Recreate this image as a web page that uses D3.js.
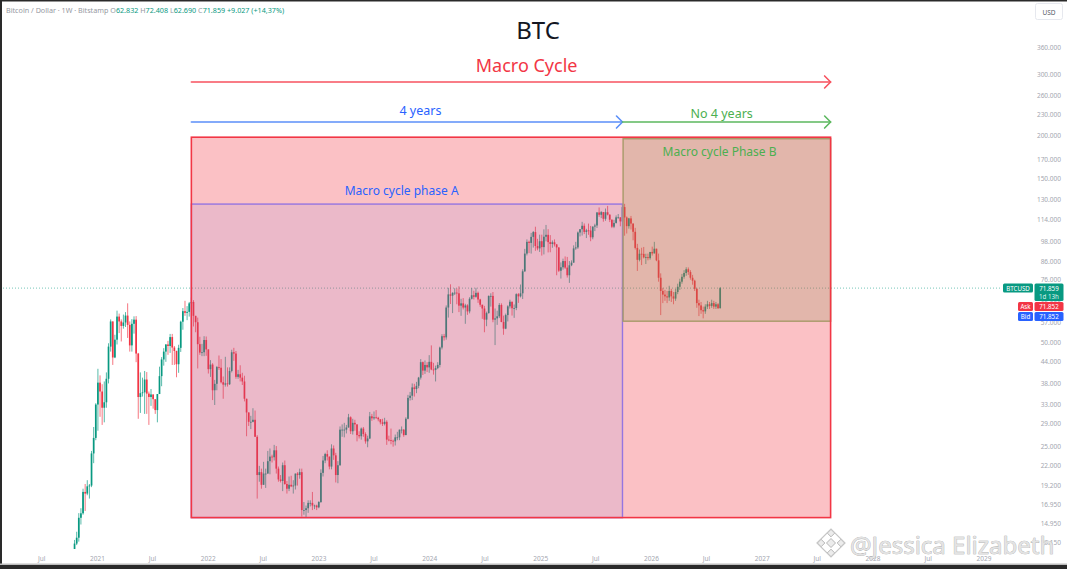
<!DOCTYPE html>
<html><head><meta charset="utf-8">
<script src="https://cdn.jsdelivr.net/npm/d3@7"></script>
<style>
html,body{margin:0;padding:0;background:#fff;overflow:hidden}
svg{display:block;font-family:"Noto Sans",sans-serif}
</style></head><body>
<svg id="c" width="1067" height="569"></svg>
<script>
// ---------- DATA (weekly candles, [close, high, low] in thousands USD) ----------
const firstWeek = "2020-10-19";
const firstOpen = 11.75;
const w2020 = [[13.03,13.35,11.4],[13.55,14.1,12.9],[15.48,15.97,13.2],[15.95,16.5,14.8],[18.4,18.8,15.8],[18.2,19.4,16.2],[19.1,19.9,18.0],[19.2,19.4,17.6],[23.8,24.2,19.0],[26.4,28.4,22.3],[33.0,33.3,26.0]];
const w2021 = [[38.2,41.9,27.7],[36.0,40.1,30.4],[32.3,37.8,28.8],[33.5,38.5,29.3],[39.2,40.9,32.3],[48.6,49.7,38.0],[57.5,58.3,47.0],[45.2,57.5,43.0],[50.9,52.6,45.0],[59.4,61.8,49.3],[57.5,60.6,53.2],[55.8,58.3,50.3],[57.1,60.2,54.8],[59.8,61.2,55.4],[56.2,64.9,51.5],[49.0,57.5,47.0],[56.6,58.4,47.0],[58.2,59.5,53.0],[46.4,59.6,43.8],[34.7,46.6,30.0],[35.6,40.9,31.2],[35.8,39.5,34.8],[39.0,41.3,31.0],[35.5,41.0,31.0],[34.7,36.0,28.8],[35.3,36.6,32.7],[34.2,35.1,32.1],[31.8,34.0,31.0],[35.4,35.4,29.3],[39.9,42.5,36.4],[44.6,45.3,37.3],[47.0,48.1,42.8],[49.3,49.4,43.9],[48.8,50.5,46.0],[51.8,52.9,46.6],[48.3,52.9,43.0],[47.2,48.8,43.0],[43.2,47.3,39.6],[48.2,49.2,40.8],[57.4,57.8,46.9],[61.6,62.9,54.4],[60.9,66.0,59.7],[61.3,63.7,58.0],[64.9,65.5,59.4],[65.5,67.5,62.3],[59.7,66.3,55.6],[57.2,59.2,53.5],[49.4,59.0,42.0],[46.7,51.9,46.0],[46.8,49.5,45.6],[50.8,52.1,45.6],[47.7,52.0,45.7]];
const w2022 = [[41.8,47.5,40.6],[43.1,44.4,39.7],[36.3,43.5,34.0],[37.9,38.9,32.9],[42.4,42.7,36.3],[42.2,45.8,41.6],[38.3,44.7,38.0],[37.7,39.8,34.3],[38.0,45.4,37.2],[37.8,42.3,37.2],[41.3,42.3,37.6],[46.8,47.6,40.9],[46.4,48.2,44.2],[39.7,47.2,39.2],[40.4,41.6,39.2],[39.5,42.9,38.5],[38.5,40.8,37.6],[34.3,40.0,33.7],[31.3,34.2,26.7],[29.4,31.3,28.6],[29.4,30.6,28.0],[29.8,32.2,29.3],[26.6,31.7,26.6],[20.6,26.9,17.6],[21.0,21.9,19.7],[19.3,21.5,18.8],[20.8,22.5,19.3],[20.8,21.5,18.9],[22.6,24.2,20.8],[23.3,24.6,20.7],[23.2,23.6,22.4],[24.3,25.2,22.7],[21.5,25.0,20.8],[20.0,21.8,19.7],[19.8,20.6,19.6],[22.0,22.4,18.5],[19.4,22.7,19.3],[18.8,19.8,18.2],[19.3,20.4,18.5],[19.1,20.5,19.0],[19.2,19.9,18.2],[20.8,20.8,18.7],[20.6,21.0,19.2],[21.0,21.5,20.1],[16.3,21.5,15.6],[16.3,17.2,15.8],[16.5,16.8,15.5],[17.1,17.4,16.0],[17.1,17.4,16.7],[16.8,18.4,16.3],[16.8,16.9,16.4],[16.6,16.9,16.3]];
const w2023 = [[17.2,17.3,16.5],[20.9,21.4,17.1],[22.7,23.4,20.4],[23.7,23.9,22.3],[23.3,24.3,22.7],[21.8,23.3,21.4],[24.6,25.3,21.4],[23.5,25.1,22.8],[20.6,23.9,19.6],[22.0,22.6,19.5],[27.9,28.5,21.9],[27.9,28.9,26.6],[27.9,29.2,26.5],[28.3,28.8,27.2],[30.3,31.0,28.5],[27.6,30.5,27.1],[29.2,30.0,27.0],[28.9,29.8,27.7],[26.9,28.0,25.8],[26.7,27.6,26.3],[28.1,28.3,26.1],[27.1,28.4,26.6],[25.8,27.4,25.4],[26.3,26.8,24.8],[30.5,31.4,26.2],[30.1,31.0,29.6],[30.3,31.5,29.8],[30.2,31.8,30.0],[29.9,30.4,29.5],[29.3,29.6,28.9],[29.0,30.0,28.6],[29.4,30.2,28.7],[26.1,29.7,25.2],[26.0,26.8,25.8],[25.9,28.1,25.3],[25.8,26.1,24.9],[26.5,27.0,25.1],[26.5,27.5,26.0],[27.9,27.9,26.0],[27.9,28.5,27.2],[26.9,28.0,26.6],[30.0,30.3,26.9],[34.5,35.2,29.9],[35.0,35.9,33.9],[37.0,38.0,34.0],[36.6,37.9,34.8],[37.4,38.4,35.6],[39.5,39.7,36.8],[43.8,44.7,39.0],[41.4,44.0,40.2],[43.0,44.3,40.5],[42.3,43.8,41.0]];
const w2024 = [[43.9,45.9,40.8],[41.7,49.0,41.5],[41.6,43.6,40.3],[42.1,42.8,38.5],[43.0,43.8,41.8],[48.3,48.6,42.3],[52.1,52.8,47.7],[51.7,52.9,50.6],[63.1,64.0,50.9],[68.9,72.0,59.0],[68.3,73.7,64.6],[69.6,69.9,60.8],[69.7,71.8,68.6],[69.4,71.7,64.5],[63.9,72.7,61.2],[64.9,66.9,59.7],[63.1,67.2,62.3],[64.0,64.7,56.6],[61.5,64.5,60.1],[66.9,67.6,60.7],[68.5,71.9,66.6],[67.8,70.6,66.6],[69.6,72.0,67.4],[66.6,70.2,65.1],[64.3,66.9,63.4],[62.7,63.4,58.5],[58.2,63.8,53.5],[60.8,61.4,55.7],[68.2,68.4,60.6],[68.2,69.4,63.5],[58.2,70.0,57.2],[58.7,62.7,49.1],[59.5,61.8,56.2],[64.2,65.0,58.8],[57.3,64.9,57.2],[54.8,59.8,52.6],[60.0,60.6,54.6],[63.6,64.1,57.5],[65.6,66.5,62.7],[62.8,65.5,59.8],[62.9,64.4,58.9],[69.0,69.4,62.0],[68.0,69.5,65.1],[69.4,73.6,67.5],[80.4,81.5,66.8],[90.5,93.4,80.0],[97.9,99.5,89.4],[97.2,98.7,90.8],[101.2,103.9,90.5],[104.5,105.2,94.2],[95.2,108.3,92.2],[93.7,99.9,92.5],[98.3,102.7,91.5]];
const w2025 = [[94.5,102.7,89.3],[101.3,106.4,90.0],[102.6,109.6,98.2],[97.7,106.5,91.2],[96.5,102.4,91.3],[97.6,98.8,94.1],[96.2,99.5,94.9],[94.3,96.5,78.3],[80.7,94.4,80.0],[82.6,85.3,76.6],[86.1,87.5,81.3],[82.4,88.8,81.6],[78.3,88.5,77.1],[83.7,86.1,74.4],[85.2,86.5,83.2],[93.7,95.6,85.1],[94.3,97.9,92.8],[104.2,104.9,93.4],[106.5,106.6,101.5],[109.0,111.9,102.1],[104.6,110.7,103.1],[105.7,106.8,100.4],[105.6,110.6,102.6],[100.9,108.9,98.3],[108.4,108.5,99.6],[109.2,110.5,105.2],[119.1,119.5,107.4],[117.3,123.2,115.7],[119.4,120.2,114.7],[114.2,119.3,112.0],[119.3,122.3,112.7],[117.4,124.5,116.8],[113.5,117.6,111.7],[108.3,113.7,107.3],[111.1,113.4,107.3],[115.3,116.8,110.6],[115.3,117.9,114.3],[112.2,115.4,108.6],[123.5,125.7,111.6],[115.2,126.2,102.0],[108.7,116.0,103.5],[114.5,114.9,106.9],[110.6,116.4,106.3],[104.7,110.8,98.9],[94.0,107.5,93.0],[86.8,96.6,80.6],[90.4,93.0,85.9],[90.3,94.1,83.8],[88.2,94.6,87.6],[88.4,90.4,84.4],[87.8,90.5,86.5],[91.5,91.5,86.9]];
const w2026 = [[90.6,94.8,89.3],[93.5,97.9,90.9],[86.5,93.5,86.0],[77.0,90.5,75.0],[70.5,79.3,60.0],[68.8,72.0,65.0],[68.0,71.0,66.0],[67.5,70.5,65.0],[70.5,73.0,66.0],[68.0,71.5,65.5],[67.0,70.0,64.5],[70.0,71.5,66.0],[72.5,74.0,69.0],[75.0,76.5,71.0],[77.5,79.0,74.0],[79.5,81.0,76.5],[81.5,82.6,78.0],[80.0,82.5,78.5],[77.0,81.0,76.0],[75.5,78.5,73.5],[71.5,76.0,70.5],[65.0,72.0,63.0],[64.0,66.5,59.6],[62.0,65.5,60.5],[61.5,63.5,58.7],[63.5,64.5,60.5],[64.5,66.0,62.5],[63.8,65.5,62.5],[65.0,66.5,63.0],[63.5,66.0,62.5],[64.5,65.5,62.5],[62.832,65.0,62.5],[71.859,72.408,62.690]];

const askPrice = 71852, bidPrice = 71852;
const countdown = "1d 13h";
const symbolName = "BTCUSD";
const headerTitle = "Bitcoin / Dollar · 1W · Bitstamp";

const xTickDates = ["2020-07-01","2021-01-01","2021-07-01","2022-01-01","2022-07-01","2023-01-01","2023-07-01","2024-01-01","2024-07-01","2025-01-01","2025-07-01","2026-01-01","2026-07-01","2027-01-01","2027-07-01","2028-01-01","2028-07-01","2029-01-01"];
const yTickValues = [13150,14950,16950,19200,22000,25000,29000,33000,38000,44000,50000,57000,65000,76000,86000,98000,114000,130000,150000,170000,200000,230000,260000,300000,360000];

// zones (rectangles): name, start date, end date, top price, bottom price
const zoneNames  = ["Macro Cycle","Macro cycle phase A","Macro cycle Phase B"];
const zoneStart  = ["2021-11-08","2021-11-08","2025-10-01"];
const zoneEnd    = ["2027-08-16","2025-09-29","2027-08-16"];
const zoneTop    = [197000,126000,195000];
const zoneBottom = [15500,15500,57600];

// arrows: label, start, end, price
const arrowNames = ["Macro Cycle","4 years","No 4 years"];
const arrowStart = ["2021-11-08","2021-11-08","2025-09-29"];
const arrowEnd   = ["2027-08-16","2025-09-29","2027-08-16"];
const arrowPrice = [285000,218000,218000];

// text labels: text, date, price
const labelTexts  = ["Macro Cycle","4 years","No 4 years","Macro cycle phase A","Macro cycle Phase B"];
const labelDates  = ["2024-11-17","2023-12-03","2026-08-22","2023-10-02","2026-08-15"];
const labelPrices = [319000,236000,231500,138000,178500];

// ---------- RENDER ----------
const W = 1067, H = 569;
const svg = d3.select("#c");
const parse = d3.utcParse("%Y-%m-%d");
const loc = d3.formatLocale({decimal:",", thousands:".", grouping:[3], currency:["",""]});
const fmtInt = loc.format(",.0f");
const fmt2 = loc.format(".2f");

const x = d3.scaleUtc().domain([parse("2021-01-01"), parse("2026-01-01")]).range([97, 651]);
const y = d3.scaleLog().domain([14950, 360000]).range([523, 47]);

const rows = [].concat(w2020, w2021, w2022, w2023, w2024, w2025, w2026);
const t0 = parse(firstWeek);
let prev = firstOpen;
const candles = rows.map((r, i) => {
  const d = {date: d3.utcDay.offset(t0, 7*i), o: prev*1000, c: r[0]*1000, h: r[1]*1000, l: r[2]*1000};
  prev = r[0];
  return d;
});
const last = candles[candles.length-1];

svg.append("rect").attr("width", W).attr("height", H).attr("fill", "#fff");

const defs = svg.append("defs");
defs.append("clipPath").attr("id","plot").append("rect").attr("x",3).attr("y",2).attr("width",997).attr("height",547);

const plot = svg.append("g").attr("clip-path","url(#plot)");

// candles
const UP = "#089981", DN = "#f23645";
const cg = plot.append("g");
cg.selectAll("line").data(candles).join("line")
  .attr("x1", d => x(d.date)).attr("x2", d => x(d.date))
  .attr("y1", d => y(Math.max(d.h, d.o, d.c))).attr("y2", d => y(Math.min(d.l, d.o, d.c)))
  .attr("stroke", d => d.c >= d.o ? UP : DN).attr("stroke-width", 0.9).attr("opacity", 0.75);
cg.selectAll("rect").data(candles).join("rect")
  .attr("x", d => x(d.date) - 0.85).attr("width", 1.7)
  .attr("y", d => y(Math.max(d.o, d.c)))
  .attr("height", d => Math.max(0.8, Math.abs(y(d.o) - y(d.c))))
  .attr("fill", d => d.c >= d.o ? UP : DN);

// current price dotted line
plot.append("line").attr("x1", 3).attr("x2", 1003).attr("y1", y(last.c)).attr("y2", y(last.c))
  .attr("stroke", UP).attr("stroke-width", 1).attr("stroke-dasharray", "1,2").attr("opacity", 0.55);

// zones
const zoneFill = ["rgba(242,54,69,0.31)", "rgba(41,98,255,0.075)", "rgba(130,140,70,0.2)"];
const zoneStroke = ["#f23645", "#9575e0", "#a79a68"];
const zones = zoneNames.map((n, i) => ({name: n, x0: x(parse(zoneStart[i])), x1: x(parse(zoneEnd[i])), y0: y(zoneTop[i]), y1: y(zoneBottom[i]), i}));
plot.append("g").selectAll("rect").data(zones).join("rect")
  .attr("x", d => d.x0).attr("y", d => d.y0).attr("width", d => d.x1 - d.x0).attr("height", d => d.y1 - d.y0)
  .attr("fill", d => zoneFill[d.i]);
[1, 2, 0].forEach(i => {
  const z = zones[i];
  plot.append("rect").attr("x", z.x0).attr("y", z.y0).attr("width", z.x1 - z.x0).attr("height", z.y1 - z.y0)
    .attr("fill", "none").attr("stroke", zoneStroke[i]).attr("stroke-width", i === 0 ? 1.6 : 1.4);
});

// arrows
const arrowColor = ["#f7525f", "#5b8ff9", "#5cb85f"];
arrowNames.forEach((n, i) => {
  const xa = x(parse(arrowStart[i])), xb = x(parse(arrowEnd[i])), ya = y(arrowPrice[i]);
  const g = svg.append("g").attr("stroke", arrowColor[i]).attr("fill", "none").attr("stroke-width", 1.6).attr("stroke-linecap","round").attr("stroke-linejoin","round");
  g.append("line").attr("x1", xa).attr("x2", xb).attr("y1", ya).attr("y2", ya);
  g.append("path").attr("d", `M${xb-6},${ya-6} L${xb},${ya} L${xb-6},${ya+6}`);
});

// labels
const labelColor = ["#f23645", "#2962ff", "#4caf50", "#2962ff", "#4caf50"];
const labelSize = [18, 12.5, 12.5, 12, 12];
labelTexts.forEach((t, i) => {
  svg.append("text").attr("x", x(parse(labelDates[i]))).attr("y", y(labelPrices[i]))
    .attr("text-anchor", "middle").attr("dominant-baseline", "central")
    .attr("font-size", labelSize[i]).attr("fill", labelColor[i]).text(t);
});

// title
svg.append("text").attr("x", 538).attr("y", 29).attr("text-anchor","middle").attr("dominant-baseline","central")
  .attr("font-size", 24).attr("fill", "#131722").text("BTC");

// x axis
const xAxis = d3.axisBottom(x).tickValues(xTickDates.map(parse)).tickSize(0)
  .tickFormat(d => d.getUTCMonth() === 0 ? String(d.getUTCFullYear()) : "Jul");
const gx = svg.append("g").attr("transform", "translate(0,553)").call(xAxis);
gx.select(".domain").remove();
gx.selectAll("text").attr("fill", "#a3a6af").attr("font-size", 6.5).attr("font-family", "Noto Sans");

// y axis
const yAxis = d3.axisLeft(y).tickValues(yTickValues).tickSize(0).tickFormat(fmtInt);
const gy = svg.append("g").attr("transform", "translate(1064,0)").call(yAxis);
gy.select(".domain").remove();
gy.selectAll("text").attr("fill", "#a3a6af").attr("font-size", 6.5).attr("font-family", "Noto Sans");

// USD box
svg.append("rect").attr("x", 1035.5).attr("y", 3.5).attr("width", 27).attr("height", 16).attr("rx", 2)
  .attr("fill", "#fff").attr("stroke", "#e6e8ee");
svg.append("text").attr("x", 1049).attr("y", 12).attr("text-anchor","middle").attr("dominant-baseline","central")
  .attr("font-size", 6.5).attr("fill", "#555a66").text("USD");

// price badges
const yc = y(last.c);
function badge(x0, y0, w, h, fill, txt, tcol) {
  svg.append("rect").attr("x", x0).attr("y", y0).attr("width", w).attr("height", h).attr("rx", 1.5).attr("fill", fill);
  svg.append("text").attr("x", x0 + w/2).attr("y", y0 + h/2 + 0.3).attr("text-anchor","middle").attr("dominant-baseline","central")
    .attr("font-size", 6.2).attr("fill", tcol || "#fff").text(txt);
}
badge(1003, yc - 4.5, 30, 9, UP, symbolName);
svg.append("rect").attr("x", 1034.5).attr("y", yc - 4.5).attr("width", 29).attr("height", 17.5).attr("rx", 1.5).attr("fill", UP);
svg.append("text").attr("x", 1049).attr("y", yc).attr("text-anchor","middle").attr("dominant-baseline","central").attr("font-size", 6.2).attr("fill", "#fff").text(fmtInt(last.c));
svg.append("text").attr("x", 1049).attr("y", yc + 8.5).attr("text-anchor","middle").attr("dominant-baseline","central").attr("font-size", 6.2).attr("fill", "#d9f2ec").text(countdown);
badge(1018, yc + 14, 15, 9, DN, "Ask");
badge(1034.5, yc + 14, 29, 9, DN, fmtInt(askPrice));
badge(1018, yc + 24, 15, 9, "#2962ff", "Bid");
badge(1034.5, yc + 24, 29, 9, "#2962ff", fmtInt(bidPrice));

// header legend
const chg = last.c - last.o;
const hdr = svg.append("text").attr("x", 6).attr("y", 13).attr("font-size", 7.2).attr("fill", "#9598a1");
hdr.append("tspan").text(headerTitle + "  ");
[["O", last.o], ["H", last.h], ["L", last.l], ["C", last.c]].forEach(([k, v]) => {
  hdr.append("tspan").attr("fill", "#9598a1").text(k);
  hdr.append("tspan").attr("fill", UP).text(fmtInt(v) + " ");
});
hdr.append("tspan").attr("fill", UP).text("+" + fmtInt(chg) + " (+" + fmt2(chg/last.o*100) + "%)");

// watermark
const wm = svg.append("g").attr("opacity", 0.95);
const lx = 831, ly = 543;
const dia = (cx, cy, s) => `M${cx},${cy-s} L${cx+s},${cy} L${cx},${cy+s} L${cx-s},${cy} Z`;
wm.append("path").attr("d", dia(lx, ly, 4.5) + dia(lx, ly-10, 3.8) + dia(lx, ly+10, 3.8) + dia(lx-10, ly, 3.8) + dia(lx+10, ly, 3.8))
  .attr("fill", "#ececec").attr("stroke", "#a0a0a0").attr("stroke-width", 0.8);
wm.append("path").attr("d", `M${lx-14},${ly} L${lx},${ly-14} L${lx+14},${ly} L${lx},${ly+14} Z`)
  .attr("fill", "none").attr("stroke", "#c4c4c4").attr("stroke-width", 1.2);
wm.append("text").attr("x", 850).attr("y", 554).attr("font-size", 24).attr("fill", "#e2e2e2")
  .attr("stroke", "#9a9a9a").attr("stroke-width", 0.6).attr("paint-order", "stroke").text("@Jessica Elizabeth");

// frame
svg.append("rect").attr("x", 0).attr("y", 0).attr("width", W).attr("height", 1.5).attr("fill", "#2a2a2a");
svg.append("rect").attr("x", 0).attr("y", 0).attr("width", 2).attr("height", H).attr("fill", "#2a2a2a");
svg.append("rect").attr("x", 0).attr("y", 565).attr("width", W).attr("height", 4).attr("fill", "#2a2a2a");
svg.append("rect").attr("x", 0).attr("y", 563.5).attr("width", W).attr("height", 1.5).attr("fill", "#bdbdbd");
</script>
</body></html>
